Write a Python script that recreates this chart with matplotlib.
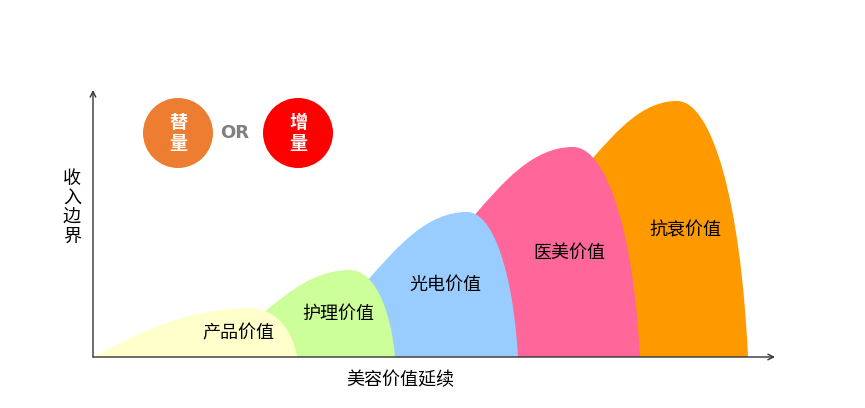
import matplotlib
matplotlib.use('Agg')
import matplotlib.pyplot as plt
from matplotlib.path import Path
from matplotlib.patches import PathPatch, Circle

plt.rcParams['font.family'] = ['Noto Sans CJK SC', 'DejaVu Sans']

# 各阶段：名称、起点(与前一块交汇)、峰值、落点
stages = ['产品价值', '护理价值', '光电价值', '医美价值', '抗衰价值']
join_x = [0, 170, 275, 380, 499]
join_y = [0, 44, 77, 140, 198]
peak_x = [157, 257, 374, 480, 584]
peak_y = [49, 87, 145, 210, 256]
end_x = [204, 302, 425, 547, 655]
colors = ['#FFFFCC', '#CCFF99', '#99CCFF', '#FF6699', '#FF9900']
label_x = [145, 245, 352, 476, 592]
label_y = [24, 43, 72, 104, 127]

x_max, y_max = 682, 267

fig = plt.figure(figsize=(8.65, 4.08), dpi=100)
ax = fig.add_axes([93/865, 51/408, x_max/865, y_max/408])
ax.set_xlim(0, x_max)
ax.set_ylim(0, y_max)
ax.axis('off')

n = len(stages)
for i in range(n):
    jx, jy = join_x[i], join_y[i]
    px, py = peak_x[i], peak_y[i]
    ex = end_x[i]
    dx, dy = px - jx, py - jy
    w = ex - px
    verts = [(jx, 0), (jx, jy),
             (jx + 0.3*dx, jy + 0.5*dy), (px - 0.4*dx, py), (px, py),
             (px + 0.5*w, py), (px + 0.9*w, 0.6*py), (ex, 0),
             (jx, 0)]
    codes = [Path.MOVETO, Path.LINETO,
             Path.CURVE4, Path.CURVE4, Path.CURVE4,
             Path.CURVE4, Path.CURVE4, Path.CURVE4,
             Path.CLOSEPOLY]
    ax.add_patch(PathPatch(Path(verts, codes), facecolor=colors[i],
                           edgecolor='none', zorder=n - i))
    ax.text(label_x[i], label_y[i], stages[i], fontsize=13, color='black',
            ha='center', va='center', zorder=20)

# 坐标轴箭头
arrow = dict(arrowstyle='->', color='#333333', lw=1.0, shrinkA=0, shrinkB=0)
ax.annotate('', xy=(x_max, 0), xytext=(0, 0), arrowprops=arrow,
            annotation_clip=False, zorder=15)
ax.annotate('', xy=(0, y_max), xytext=(0, 0), arrowprops=arrow,
            annotation_clip=False, zorder=15)

ax.text(-21, 149, '\n'.join('收入边界'), fontsize=13, ha='center', va='center',
        linespacing=1.1)
ax.text(307, -23, '美容价值延续', fontsize=13, ha='center', va='center')

# 替量 OR 增量
ax.add_patch(Circle((85, 224), 35, facecolor='#ED7D31', edgecolor='none'))
ax.add_patch(Circle((205, 224), 35, facecolor='#FF0000', edgecolor='none'))
ax.text(85, 224, '替\n量', color='white', fontsize=13, fontweight='bold',
        ha='center', va='center', linespacing=1.15)
ax.text(205, 224, '增\n量', color='white', fontsize=13, fontweight='bold',
        ha='center', va='center', linespacing=1.15)
ax.text(142, 224, 'OR', color='#808080', fontsize=13, fontweight='bold',
        ha='center', va='center', family=['DejaVu Sans'])

fig.savefig('out.png', dpi=100)
